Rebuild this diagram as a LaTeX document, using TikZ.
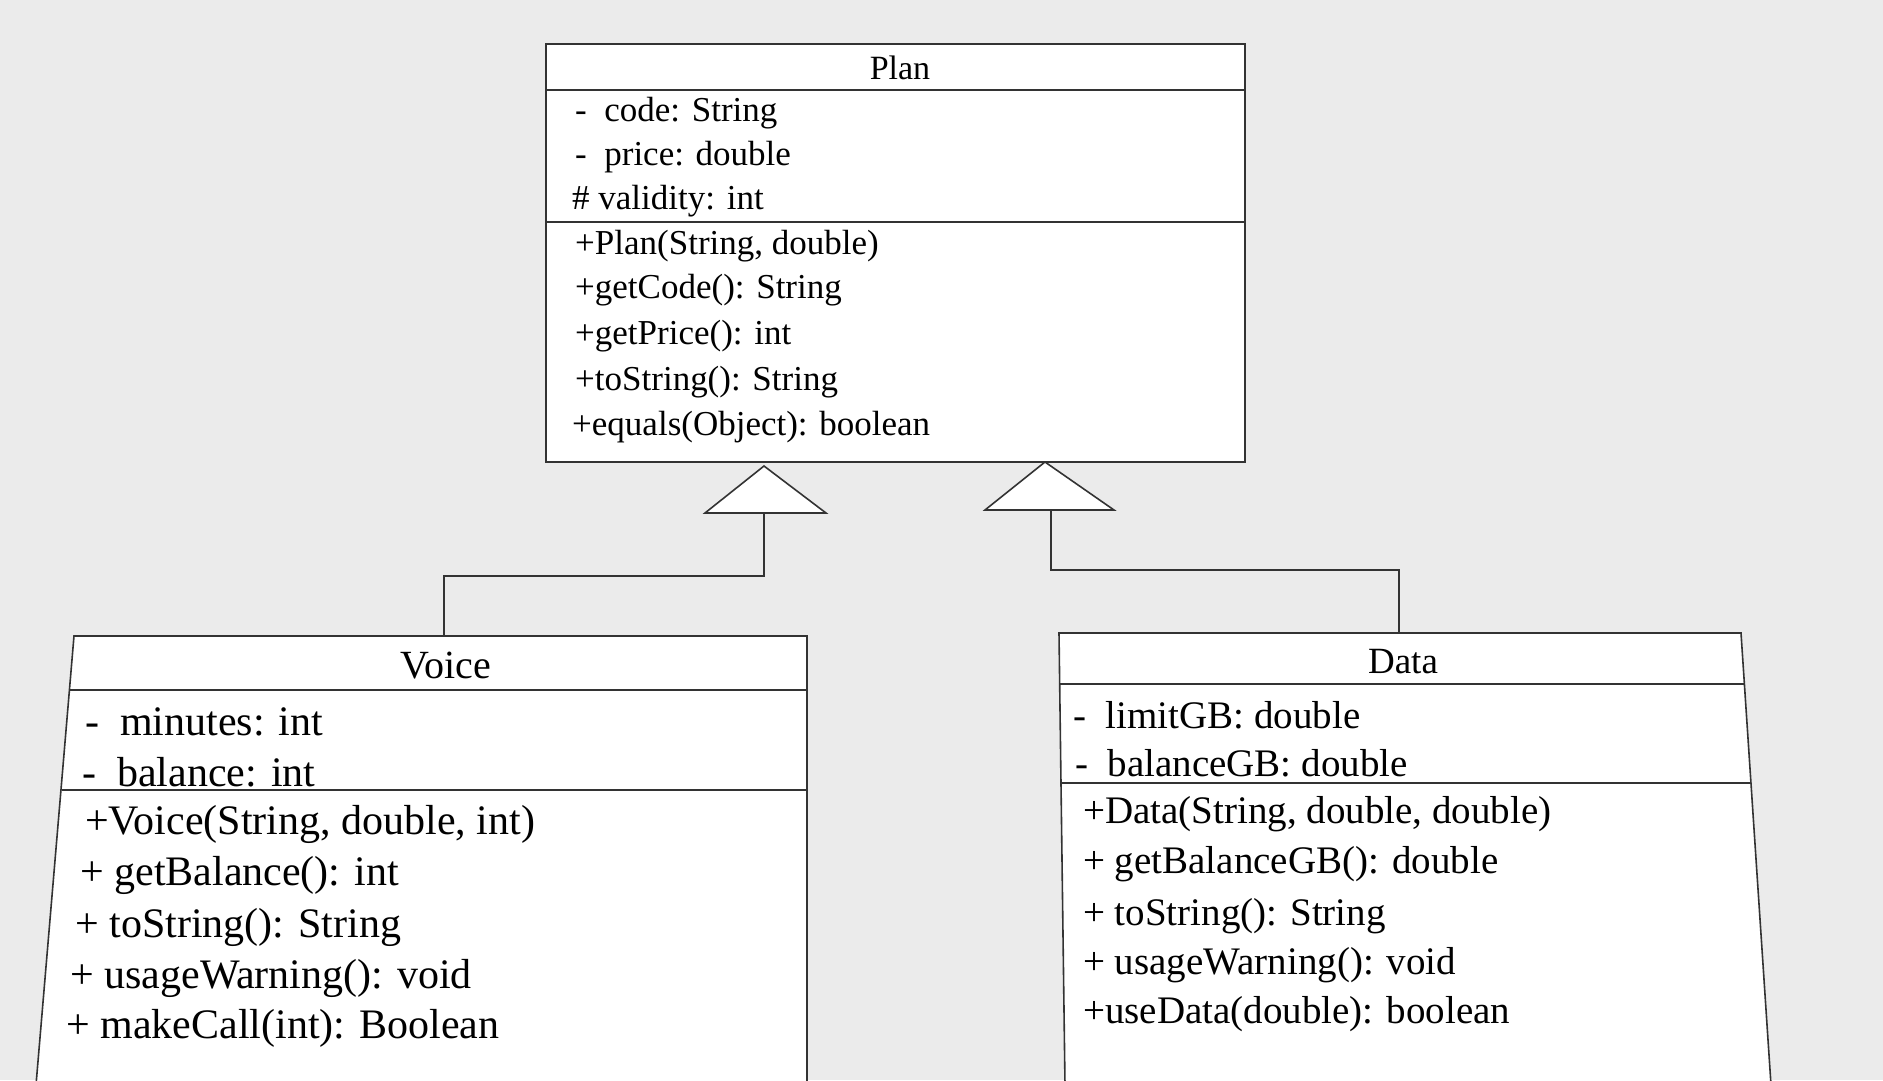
\documentclass[tikz,border=0pt]{standalone}
\usepackage{fontspec}
\setmainfont{Liberation Serif}
\begin{document}
\begin{tikzpicture}[x=1pt,y=-1pt,
  box/.style={draw=black!80,line width=1.6pt},
  ln/.style={draw=black!80,line width=1.6pt},
  ptxt/.style={anchor=west,inner sep=0pt,font=\fontsize{35}{40}\selectfont},
  vtxt/.style={anchor=west,inner sep=0pt,font=\fontsize{42}{46}\selectfont},
  ttl/.style={inner sep=0pt,font=\fontsize{34}{40}\selectfont}]
\fill[white!92!black] (0,0) rectangle (1883,1080);
\useasboundingbox (0,0) rectangle (1883,1080);
% Plan
\draw[box,fill=white] (546,44) rectangle (1245,462);
\draw[ln] (546,90) -- (1245,90);
\draw[ln] (546,222) -- (1245,222);
\node[ttl] (pt) at (900,68) {Plan};
\node[ptxt] (p1) at (575,113) {-\ \ code: String};
\node[ptxt] (p2) at (575,157) {-\ \ price: double};
\node[ptxt] (p3) at (572,201) {\# validity: int};
\node[ptxt] (p4) at (575,246) {+Plan(String, double)};
\node[ptxt] (p5) at (575,290) {+getCode(): String};
\node[ptxt] (p6) at (575,336) {+getPrice(): int};
\node[ptxt] (p7) at (575,382) {+toString(): String};
\node[ptxt] (p8) at (572,427) {+equals(Object): boolean};
% Voice
\draw[box,fill=white] (36,1085) -- (74,636) -- (807,636) -- (807,1085);
\draw[ln] (70,690) -- (807,690);
\draw[ln] (62,790) -- (807,790);
\node[ttl,font=\fontsize{40}{46}\selectfont] (vt) at (446,666) {Voice};
\node[vtxt] (v1) at (85,722) {-\ \ minutes: int};
\node[vtxt] (v2) at (82,772) {-\ \ balance: int};
\node[vtxt] (v3) at (85,824) {+Voice(String, double, int)};
\node[vtxt] (v4) at (80,875) {+ getBalance(): int};
\node[vtxt] (v5) at (75,927) {+ toString(): String};
\node[vtxt] (v6) at (70,978) {+ usageWarning(): void};
\node[vtxt] (v7) at (66,1028) {+ makeCall(int): Boolean};
% Data
\draw[box,fill=white] (1065,1085) -- (1059,633) -- (1741,633) -- (1771,1085);
\draw[ln] (1060,684) -- (1744,684);
\draw[ln] (1061,783) -- (1750,783);
\node[ttl,font=\fontsize{37}{43}\selectfont] (dt) at (1403,662) {Data};
\node[vtxt,font=\fontsize{39}{44}\selectfont] (d1) at (1073,715) {-\ \ limitGB: double};
\node[vtxt,font=\fontsize{39}{44}\selectfont] (d2) at (1075,763) {-\ \ balanceGB: double};
\node[vtxt,font=\fontsize{39}{44}\selectfont] (d3) at (1083,814) {+Data(String, double, double)};
\node[vtxt,font=\fontsize{39}{44}\selectfont] (d4) at (1083,864) {+ getBalanceGB(): double};
\node[vtxt,font=\fontsize{39}{44}\selectfont] (d5) at (1083,916) {+ toString(): String};
\node[vtxt,font=\fontsize{39}{44}\selectfont] (d6) at (1083,965) {+ usageWarning(): void};
\node[vtxt,font=\fontsize{39}{44}\selectfont] (d7) at (1083,1014) {+useData(double): boolean};
% generalization
\coordinate (ta) at (764,466);
\coordinate (tb) at (1045,462);
\draw[ln,fill=white] (ta) -- (826,513) -- (705,513) -- cycle;
\draw[ln,fill=white] (tb) -- (1114,510) -- (985,510) -- cycle;
\draw[ln] (764,513) -- (764,576) -- (444,576) -- (444,636);
\draw[ln] (1051,510) -- (1051,570) -- (1399,570) -- (1399,633);
\end{tikzpicture}
\end{document}
